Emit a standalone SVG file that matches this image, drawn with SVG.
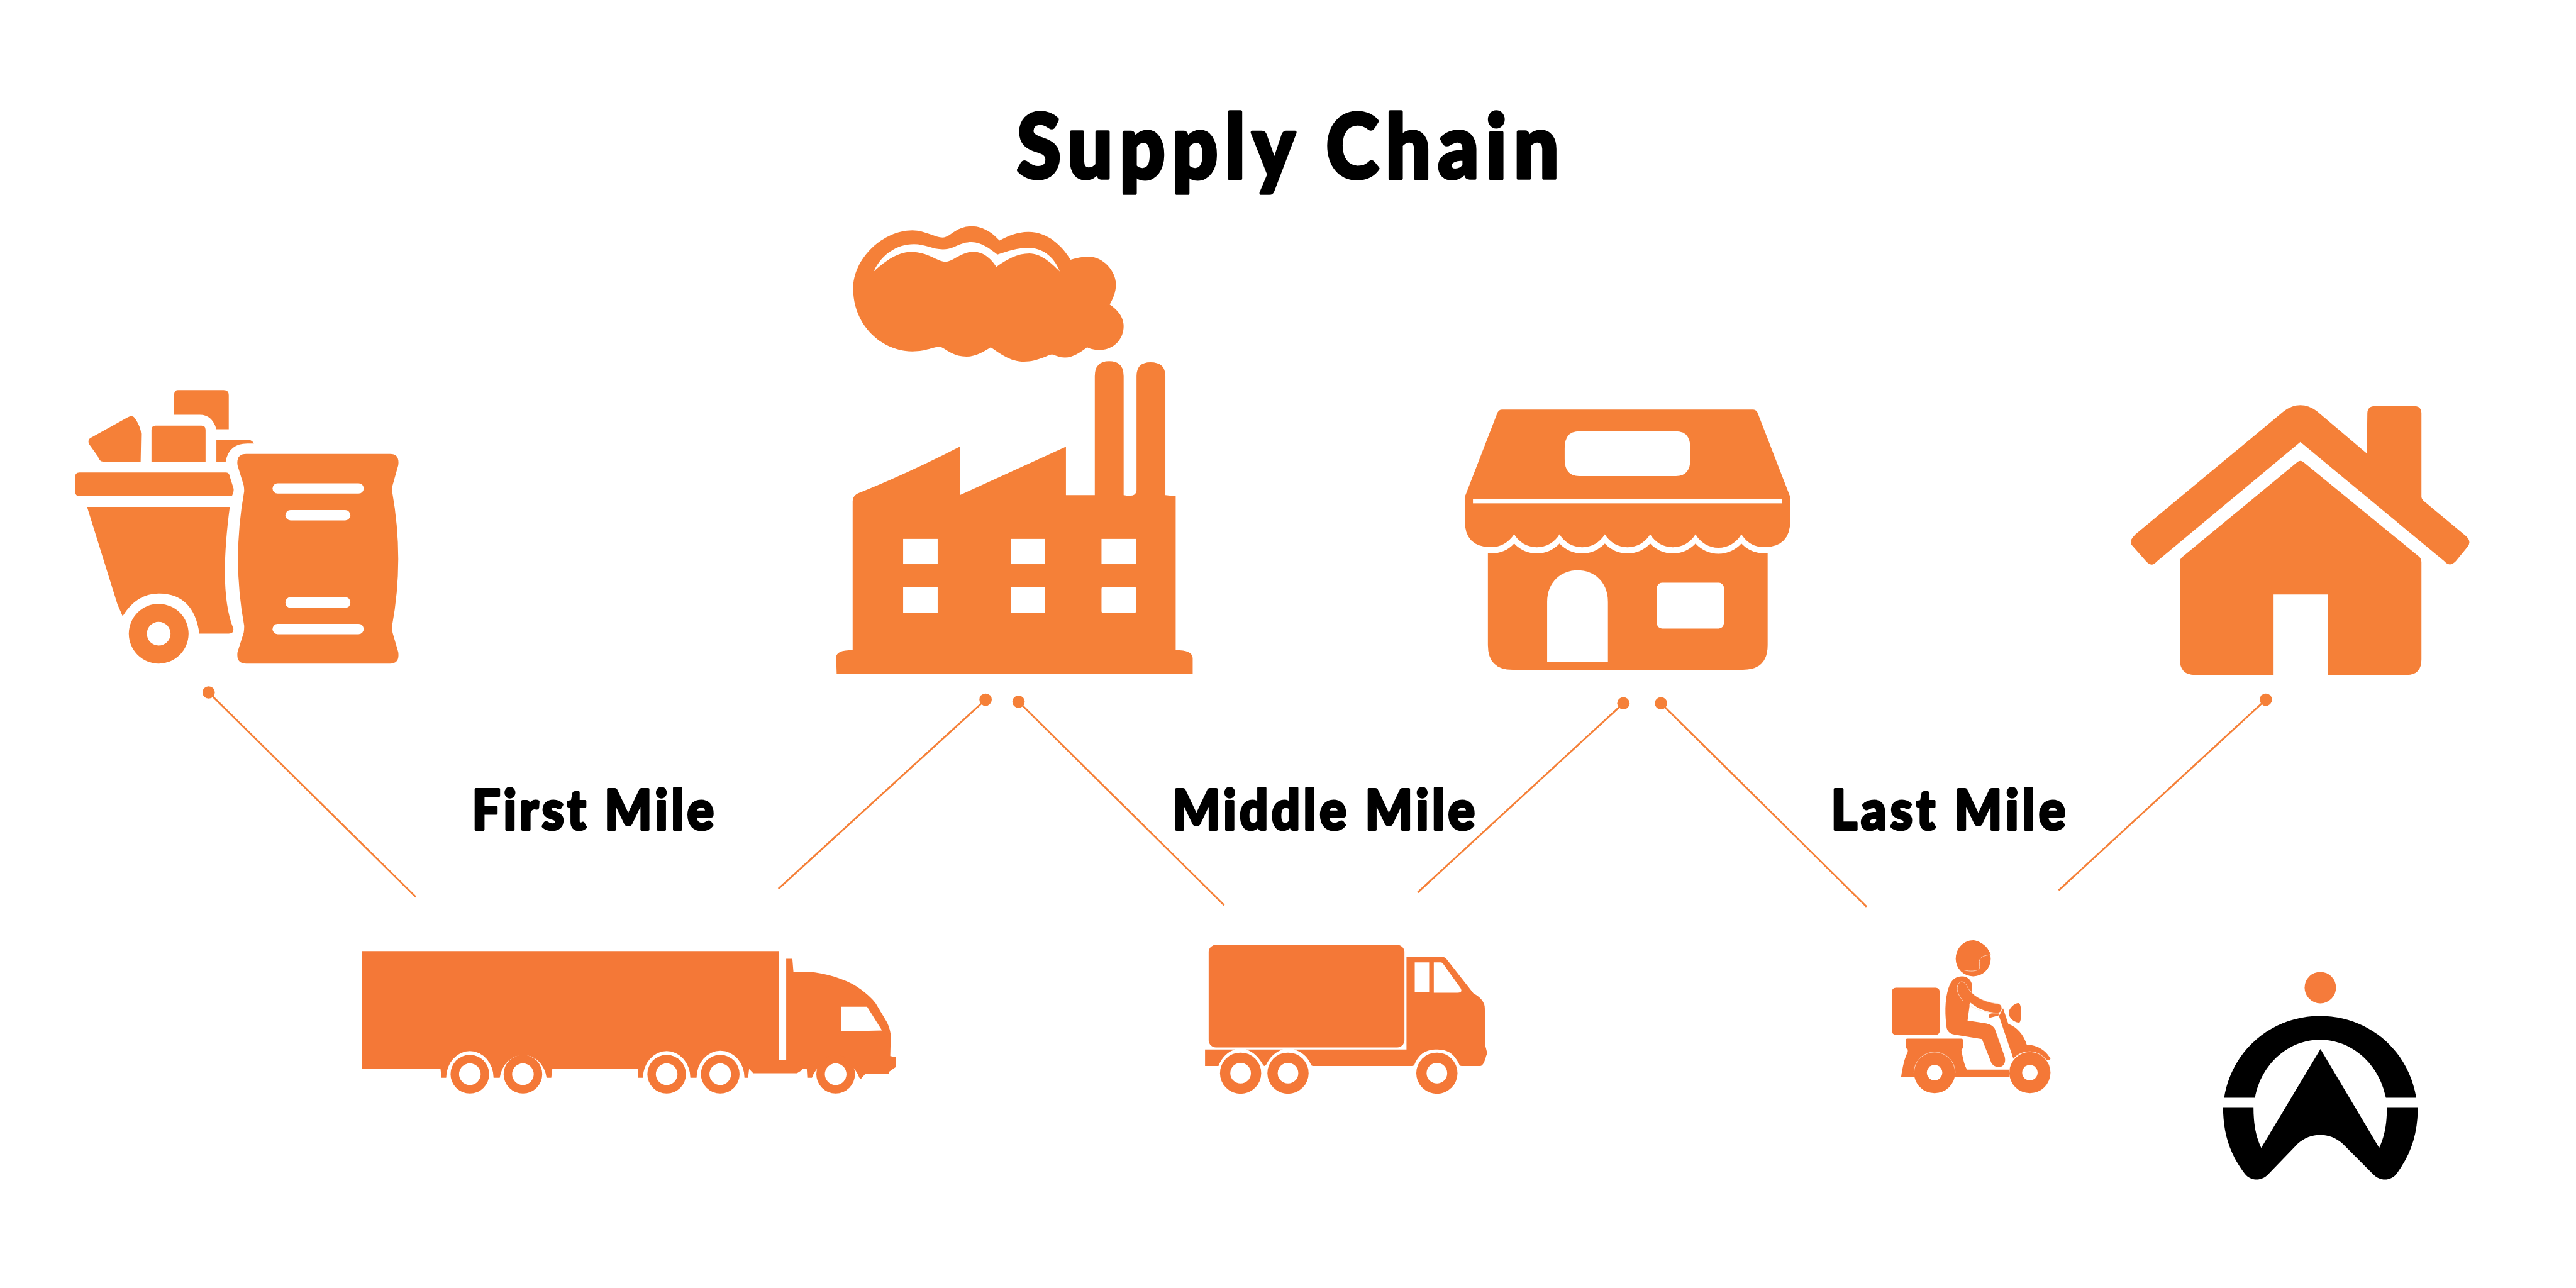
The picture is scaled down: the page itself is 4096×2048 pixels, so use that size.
<svg xmlns="http://www.w3.org/2000/svg" width="4096" height="2048" viewBox="0 0 4096 2048">
<style>
.o{fill:#f58038}.t{fill:#f47837}.w{fill:#fff}.k{fill:#000}
.l{stroke:#f58038;stroke-width:3.5;fill:none}
.s{fill:none;stroke:#fde3d3;stroke-width:1}
.h{font-family:"Lato","Open Sans","Liberation Sans",sans-serif;font-weight:900;fill:#000;stroke:#000;stroke-linejoin:round}
</style>
<rect width="4096" height="2048" fill="#fff"/>
<g transform="scale(0.8192)">
<g id="title"><text class="h" transform="translate(1974 346) scale(.9 1)" font-size="172" stroke-width="7" textLength="1169" lengthAdjust="spacing">Supply Chain</text></g>
<g id="connectors">
<path class="l" d="M405 1344L807 1741M1913 1358L1511 1725M1977 1362L2376 1757M3151 1365L2752 1732M3224 1365L3623 1760M4398 1358L3996 1728"/>
<g class="o"><circle cx="405" cy="1344" r="12"/><circle cx="1913" cy="1358" r="12"/><circle cx="1977" cy="1362" r="12"/><circle cx="3151" cy="1365" r="12"/><circle cx="3224" cy="1365" r="12"/><circle cx="4398" cy="1358" r="12"/></g>
</g>
<g id="label-first-mile"><text class="h" transform="translate(916 1610) scale(.9 1)" font-size="108" stroke-width="5" textLength="522" lengthAdjust="spacing">First Mile</text></g>
<g id="label-middle-mile"><text class="h" transform="translate(2276 1610) scale(.9 1)" font-size="108" stroke-width="5" textLength="652" lengthAdjust="spacing">Middle Mile</text></g>
<g id="label-last-mile"><text class="h" transform="translate(3554 1610) scale(.9 1)" font-size="108" stroke-width="5" textLength="506" lengthAdjust="spacing">Last Mile</text></g>

<g id="raw-materials">
<path class="o" d="M345 757H434Q444 757 444 767V833H420Q412 805 388 805H338V767Q338 757 345 757Z"/>
<path class="o" d="M302 826H391Q399 826 399 834V896H294V834Q294 826 302 826Z"/>
<path class="o" d="M248 810Q257 805 262 812Q273 828 274 842L273 896H200Q193 896 190 886L173 862Q169 854 176 850Z"/>
<path class="o" d="M420 854H482Q489 854 493 861H480Q444 861 438 896H420Z"/>
<path class="o" d="M154 917H439Q445 917 446 925L453 947Q455 953 450 963H154Q146 963 146 955V925Q146 917 154 917Z"/>
<path class="o" d="M169 984H446Q424 1150 453 1220Q454 1230 444 1230H387Q376 1152 308 1152Q265 1152 238 1196L228 1173Z"/>
<circle class="o" cx="308" cy="1230" r="58"/><circle class="w" cx="308" cy="1230" r="23"/>
<path class="o" d="M478 881H757Q776 881 773 903L762 942Q761 948 761 953Q785 1086 761 1215Q761 1222 762 1228L773 1266Q776 1288 757 1288H478Q458 1288 461 1266L473 1228Q474 1222 474 1215Q450 1086 474 953Q474 948 473 942L461 903Q458 881 478 881Z"/>
<g class="w"><rect x="529" y="938" width="177" height="20" rx="10"/><rect x="554" y="990" width="126" height="20" rx="10"/><rect x="554" y="1159" width="126" height="21" rx="10"/><rect x="529" y="1211" width="177" height="20" rx="10"/></g>
</g>

<g id="factory">
<path class="o" d="M1656 561C1656 500 1715 447 1771 447C1795 447 1815 461 1830 461C1845 461 1855 439 1886 439C1910 439 1930 455 1940 467C1955 458 1975 450 1996 450C2035 450 2062 478 2078 504C2090 501 2100 498 2113 498C2140 498 2166 525 2166 552C2166 568 2160 580 2154 591C2168 600 2181 615 2181 633C2181 660 2160 679 2136 679C2126 679 2118 678 2110 674C2097 684 2082 694 2067 694C2055 694 2050 690 2042 688C2035 688 2015 702 1988 702C1960 702 1940 685 1923 674C1910 682 1895 692 1876 692C1850 692 1840 680 1825 673C1810 673 1800 682 1771 682C1710 682 1656 630 1656 561Z"/>
<path class="w" d="M1696 527C1710 495 1740 474 1774 474C1795 474 1810 484 1830 484C1855 484 1860 470 1886 470C1905 470 1920 482 1936 494C1955 488 1975 481 1996 481C2020 481 2045 495 2057 527C2040 510 2020 492 1998 492C1975 492 1955 503 1934 518C1925 505 1912 489 1889 489C1865 489 1850 508 1835 508C1820 508 1800 489 1769 489C1740 489 1715 510 1696 527Z"/>
<path class="o" d="M1655 973Q1655 960 1672 955Q1770 915 1863 867V961L2069 867V961H2125V730Q2125 701 2153 701Q2181 701 2181 730V961Q2206 966 2206 951V730Q2206 703 2233 703Q2262 703 2262 730V961L2282 963V1262Q2315 1262 2315 1278L2315 1308H1624L1623 1276Q1623 1262 1655 1262Z"/>
<g class="w"><rect x="1753" y="1046" width="67" height="49"/><rect x="1962" y="1046" width="66" height="49"/><rect x="2138" y="1046" width="67" height="49"/><rect x="1753" y="1139" width="67" height="51"/><rect x="1962" y="1139" width="66" height="50"/><rect x="2138" y="1139" width="67" height="51" rx="4"/></g>
</g>

<g id="store">
<path class="o" d="M2915 795H3403Q3410 795 3413 805L3475 965V1010Q3475 1062 3424 1062Q3396 1062 3380 1037A51 51 0 0 1 3291 1037A51 51 0 0 1 3203 1037A51 51 0 0 1 3115 1037A51 51 0 0 1 3027 1037A51 51 0 0 1 2939 1037Q2922 1062 2894 1062Q2843 1062 2843 1010V965L2905 805Q2908 795 2915 795Z"/>
<path class="w" d="M3065 837H3253Q3281 837 3281 870V891Q3281 924 3253 924H3065Q3037 924 3037 891V870Q3037 837 3065 837Z"/>
<rect class="w" x="2859" y="968" width="600" height="9"/>
<path class="o" d="M2888 1074Q2920 1076 2939 1055A60 60 0 0 0 3027 1055A60 60 0 0 0 3115 1055A60 60 0 0 0 3203 1055A60 60 0 0 0 3291 1055A60 60 0 0 0 3380 1055Q3400 1076 3431 1074V1252Q3431 1300 3383 1300H2936Q2888 1300 2888 1252Z"/>
<path class="w" d="M3003 1285V1168C3003 1130 3030 1107 3062 1107C3095 1107 3121 1130 3121 1168V1285Z"/>
<rect class="w" x="3216" y="1131" width="130" height="89" rx="10"/>
</g>

<g id="house">
<path class="o" d="M4137 1047V1057L4165 1089Q4176 1102 4186 1090L4465 858L4744 1089Q4755 1102 4767 1089L4789 1062Q4798 1052 4787 1041L4704 972Q4700 968 4700 965V802Q4700 788 4684 788H4612Q4595 788 4595 802L4594 880L4497 798Q4465 775 4433 798L4145 1037Q4140 1042 4137 1047Z"/>
<path class="o" d="M4459 897Q4465 892 4471 897L4696 1081Q4700 1085 4700 1091V1280Q4700 1310 4672 1310H4518V1154H4413V1310H4260Q4231 1310 4231 1280V1091Q4231 1085 4236 1081Z"/>
</g>

<g id="semi-truck">
<path class="t" d="M702 1846H1512V2057H1526V1861H1538L1540 1886H1557C1590 1886 1625 1895 1655 1910C1680 1925 1695 1940 1700 1948L1722 1985Q1729 2000 1729 2013L1728 2050L1739 2052V2071L1726 2080V2084H1680L1671 2094L1668 2092A49 52 0 0 0 1576 2092H1567L1566 2075L1556 2074L1557 2077L1547 2083H1462L1454 2075L1452 2092H1445A46 52 0 0 0 1352 2092H1340A46 52 0 0 0 1248 2092H1239L1238 2075H1072L1070 2092H1061A46 52 0 0 0 970 2092H958A46 52 0 0 0 866 2092H857L855 2075H702Z"/>
<path class="w" d="M1633 1954H1683L1712 2000L1633 2002Z"/>
<g class="t"><circle cx="912" cy="2085" r="37.5"/><circle cx="1015" cy="2085" r="37.5"/><circle cx="1294" cy="2085" r="37.5"/><circle cx="1398" cy="2085" r="37.5"/><circle cx="1622" cy="2085" r="37.5"/></g>
<g class="w"><circle cx="912" cy="2085" r="21"/><circle cx="1015" cy="2085" r="21"/><circle cx="1294" cy="2085" r="21"/><circle cx="1398" cy="2085" r="21"/><circle cx="1622" cy="2085" r="21"/></g>
</g>

<g id="box-truck">
<rect class="t" x="2346" y="1834" width="380" height="199" rx="14"/>
<path class="t" d="M2730 1857H2798Q2804 1857 2808 1862L2860 1928Q2882 1940 2882 1957L2883 2030Q2890 2055 2885 2048Q2880 2069 2873 2069H2837Q2833 2069 2832 2065C2822 2045 2810 2037 2789 2037C2768 2037 2755 2045 2746 2065Q2745 2069 2740 2069H2549Q2545 2069 2544 2065C2537 2050 2527 2042 2512 2037H2730Z"/>
<path class="t" d="M2419 2037H2490C2475 2042 2465 2052 2458 2066Q2454 2072 2451 2066C2443 2052 2433 2042 2419 2037Z"/>
<path class="t" d="M2339 2037H2397C2382 2042 2372 2052 2365 2069H2339Z"/>
<rect class="w" x="2746" y="1868" width="28" height="58"/>
<path class="w" d="M2783 1868H2796Q2800 1868 2802 1872L2835 1918Q2840 1927 2829 1927H2783Z"/>
<g class="t"><circle cx="2408" cy="2083" r="40"/><circle cx="2500" cy="2083" r="40"/><circle cx="2789" cy="2083" r="40"/></g>
<g class="w"><circle cx="2408" cy="2083" r="20"/><circle cx="2500" cy="2083" r="20"/><circle cx="2789" cy="2083" r="20"/></g>
</g>

<g id="scooter">
<circle class="t" cx="3830" cy="1861" r="34"/>
<path class="t" d="M3864 1853C3855 1830 3835 1825 3830 1825C3812 1825 3797 1840 3797 1858C3797 1870 3802 1880 3812 1883H3838C3842 1883 3842 1880 3842 1876V1866C3842 1858 3852 1854 3864 1853Z"/>
<path class="s" d="M3864 1853C3852 1854 3842 1858 3842 1866V1876C3842 1880 3842 1883 3838 1883C3830 1886 3820 1885 3812 1883"/>
<rect class="t" x="3672" y="1917" width="93" height="92" rx="8"/>
<path class="t" d="M3808 1895C3820 1895 3828 1904 3828 1915L3826 1930L3819 1981L3853 1986C3862 1988 3868 1990 3872 1997L3890 2048C3895 2060 3890 2071 3880 2071C3872 2071 3866 2067 3864 2060L3847 2017L3793 2008C3783 2006 3778 2000 3778 1990C3774 1960 3776 1930 3785 1910C3790 1900 3798 1895 3808 1895Z"/>
<path class="t" d="M3800 1917C3796 1906 3812 1902 3817 1912C3825 1932 3850 1945 3877 1948C3888 1949 3888 1966 3877 1966C3845 1965 3815 1945 3800 1917Z"/>
<path class="s" d="M3810 1943C3804 1934 3796 1925 3800 1912C3805 1902 3812 1905 3817 1912C3825 1932 3850 1945 3877 1948C3890 1950 3888 1966 3877 1966C3855 1966 3830 1958 3822 1950"/>
<path class="t" d="M3879 1971L3864 1975C3858 1977 3859 1968 3866 1967L3880 1967Z"/>
<path class="t" d="M3918 1947C3925 1947 3925 1988 3918 1985C3908 1984 3899 1975 3899 1966C3899 1957 3910 1947 3918 1947Z"/>
<path class="t" d="M3888 1957L3898 1987C3915 1994 3928 2008 3934 2028C3955 2028 3972 2040 3980 2055Q3978 2060 3972 2057C3960 2045 3950 2041 3940 2041C3925 2041 3915 2047 3908 2055L3880 1972Z"/>
<path class="t" d="M3702 2016H3807Q3810 2016 3810 2019V2034L3807 2038C3810 2055 3813 2068 3818 2076H3899V2091H3690C3693 2070 3697 2053 3703 2042V2037L3699 2034V2019Q3699 2016 3702 2016Z"/>
<circle class="t" cx="3755" cy="2082" r="40"/><circle class="t" cx="3940" cy="2082" r="40"/>
<circle class="w" cx="3755" cy="2082" r="15"/><circle class="w" cx="3940" cy="2082" r="15"/>
<path class="s" d="M3715 2082A40 40 0 0 1 3795 2082M3900 2082V2070M3908 2055A42 42 0 0 1 3972 2057"/>
</g>

<g id="logo">
<circle cx="4503.7" cy="1917" r="30.5" fill="#f57b3b"/>
<path class="k" d="M4317 2130.7C4333 2035 4412 1972 4503 1972C4595 1972 4674 2035 4690 2130.7H4631C4618 2065 4565 2018 4503 2018C4442 2018 4389 2065 4377 2130.7Z"/>
<path class="k" d="M4315 2149H4374C4374 2180 4378 2205 4389 2228L4504 2036L4618 2228C4629 2205 4633 2180 4633 2149H4693C4693 2200 4680 2240 4652 2278C4640 2293 4620 2293 4607 2280L4547 2220C4522 2197 4485 2197 4460 2220L4402 2280C4389 2293 4369 2293 4357 2278C4328 2240 4315 2200 4315 2149Z"/>
</g>
</g>
</svg>
